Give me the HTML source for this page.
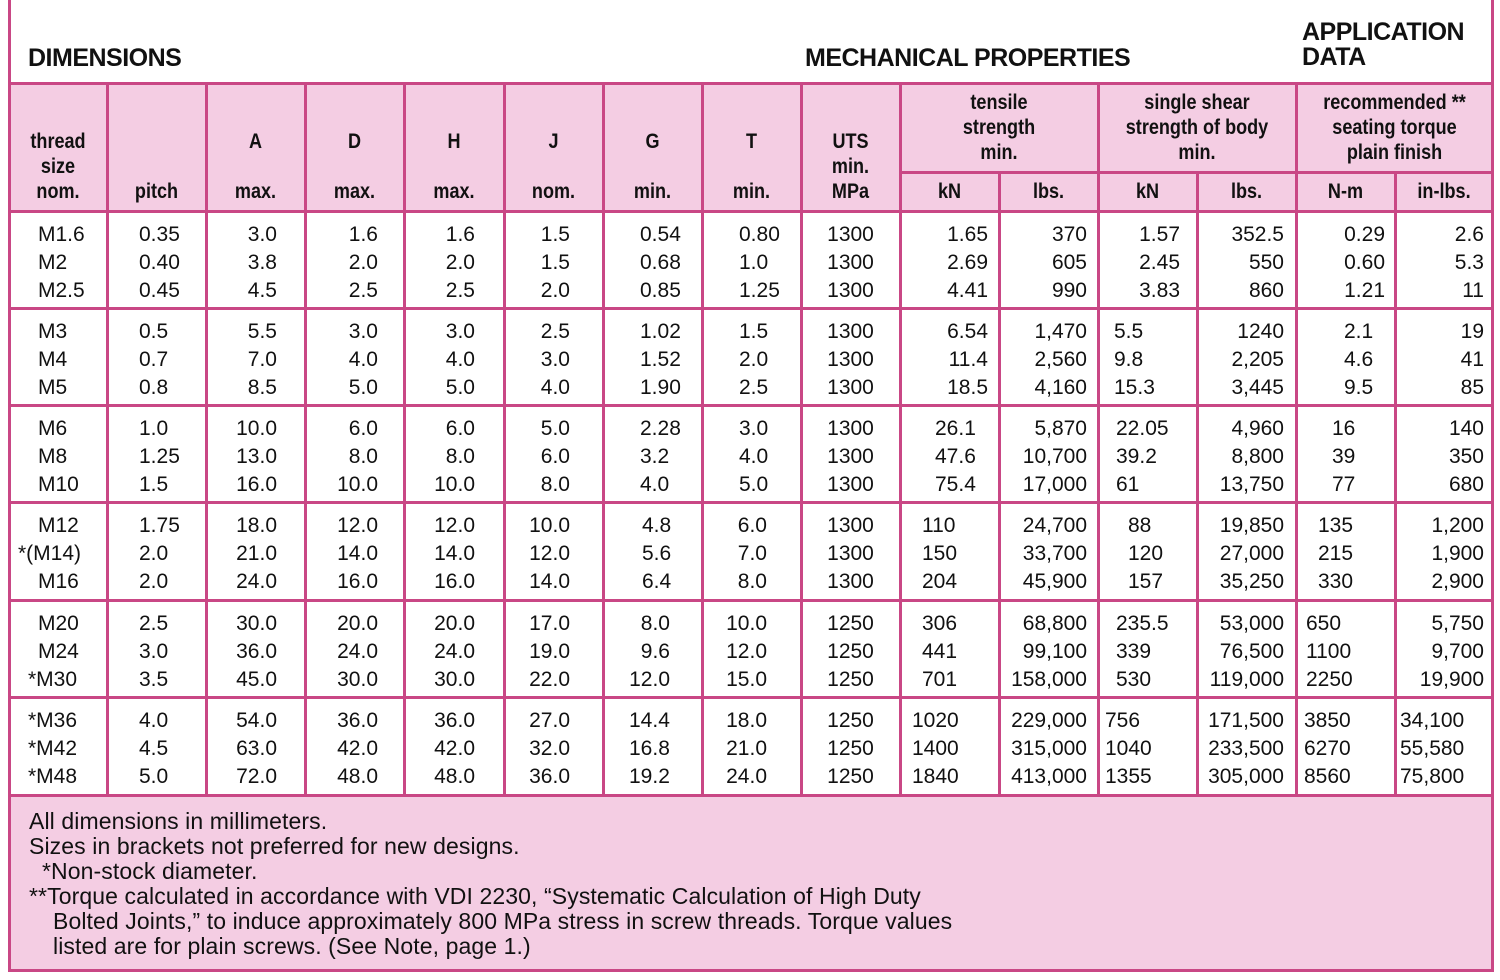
<!DOCTYPE html><html><head><meta charset="utf-8"><style>
body{margin:0;width:1500px;height:980px;background:#fff;position:relative;overflow:hidden;font-family:"Liberation Sans",sans-serif;color:#111}
.a{position:absolute}
.v{position:absolute;width:3px;background:#c94785}
.h{position:absolute;height:3px;background:#c94785}
.t{font-weight:bold;font-size:25px;letter-spacing:-0.5px}
.hd{position:absolute;font-family:"Liberation Sans",sans-serif;font-weight:bold;font-size:21px;line-height:25px;text-align:center;transform:scaleX(0.86);transform-origin:center}
.g{position:absolute;left:9px;display:grid;grid-template-columns:98px 99px 99px 99px 100px 99px 99px 99px 99px 99px 99px 99px 99px 99px 97px;font-size:21px;line-height:28px}
.g div{padding-top:10px;white-space:nowrap}
.c{text-align:center}
.ft{position:absolute;font-size:23px;line-height:25px;white-space:nowrap;letter-spacing:0.1px}
</style></head><body>
<div class="a" style="left:9px;top:83px;width:1484px;height:128px;background:#f4cde3"></div>
<div class="a" style="left:9px;top:795px;width:1484px;height:175px;background:#f4cde3"></div>
<div class="a t" style="left:28px;top:44px">DIMENSIONS</div>
<div class="a t" style="left:805px;top:44px">MECHANICAL PROPERTIES</div>
<div class="a t" style="left:1302px;top:20px;line-height:25px">APPLICATION<br>DATA</div>

<div class="hd" style="left:9px;width:98px;top:129px">thread<br>size<br>nom.</div>
<div class="hd" style="left:107px;width:99px;top:179px">pitch</div>
<div class="hd" style="left:206px;width:99px;top:129px">A<br><br>max.</div>
<div class="hd" style="left:305px;width:99px;top:129px">D<br><br>max.</div>
<div class="hd" style="left:404px;width:100px;top:129px">H<br><br>max.</div>
<div class="hd" style="left:504px;width:99px;top:129px">J<br><br>nom.</div>
<div class="hd" style="left:603px;width:99px;top:129px">G<br><br>min.</div>
<div class="hd" style="left:702px;width:99px;top:129px">T<br><br>min.</div>
<div class="hd" style="left:801px;width:99px;top:129px">UTS<br>min.<br>MPa</div>
<div class="hd" style="left:900px;width:198px;top:90px">tensile<br>strength<br>min.</div>
<div class="hd" style="left:1098px;width:198px;top:90px">single shear<br>strength of body<br>min.</div>
<div class="hd" style="left:1296px;width:197px;top:90px">recommended **<br>seating torque<br>plain finish</div>
<div class="hd" style="left:900px;width:99px;top:179px">kN</div>
<div class="hd" style="left:999px;width:99px;top:179px">lbs.</div>
<div class="hd" style="left:1098px;width:99px;top:179px">kN</div>
<div class="hd" style="left:1197px;width:99px;top:179px">lbs.</div>
<div class="hd" style="left:1296px;width:99px;top:179px">N-m</div>
<div class="hd" style="left:1395px;width:98px;top:179px">in-lbs.</div>

<div class="g" style="top:211px">
<div style="padding-left:29px">M1.6<br>M2<br>M2.5</div>
<div style="padding-left:32px">0.35<br>0.40<br>0.45</div>
<div style="text-align:right;padding-right:28px">3.0<br>3.8<br>4.5</div>
<div style="text-align:right;padding-right:26px">1.6<br>2.0<br>2.5</div>
<div style="text-align:right;padding-right:29px">1.6<br>2.0<br>2.5</div>
<div style="text-align:right;padding-right:33px">1.5<br>1.5<br>2.0</div>
<div style="padding-left:37px">0.54<br>0.68<br>0.85</div>
<div style="padding-left:37px">0.80<br>1.0<br>1.25</div>
<div class="c">1300<br>1300<br>1300</div>
<div style="text-align:right;padding-right:11px">1.65<br>2.69<br>4.41</div>
<div style="text-align:right;padding-right:11px">370<br>605<br>990</div>
<div style="text-align:right;padding-right:17px">1.57<br>2.45<br>3.83</div>
<div style="text-align:right;padding-right:12px">352.5<br>550<br>860</div>
<div style="text-align:right;padding-right:10px">0.29<br>0.60<br>1.21</div>
<div style="text-align:right;padding-right:8px">2.6<br>5.3<br>11</div>
</div>
<div class="g" style="top:308px">
<div style="padding-left:29px">M3<br>M4<br>M5</div>
<div style="padding-left:32px">0.5<br>0.7<br>0.8</div>
<div style="text-align:right;padding-right:28px">5.5<br>7.0<br>8.5</div>
<div style="text-align:right;padding-right:26px">3.0<br>4.0<br>5.0</div>
<div style="text-align:right;padding-right:29px">3.0<br>4.0<br>5.0</div>
<div style="text-align:right;padding-right:33px">2.5<br>3.0<br>4.0</div>
<div style="padding-left:37px">1.02<br>1.52<br>1.90</div>
<div style="padding-left:37px">1.5<br>2.0<br>2.5</div>
<div class="c">1300<br>1300<br>1300</div>
<div style="text-align:right;padding-right:11px">6.54<br>11.4<br>18.5</div>
<div style="text-align:right;padding-right:11px">1,470<br>2,560<br>4,160</div>
<div style="padding-left:16px">5.5<br>9.8<br>15.3</div>
<div style="text-align:right;padding-right:12px">1240<br>2,205<br>3,445</div>
<div style="padding-left:48px">2.1<br>4.6<br>9.5</div>
<div style="text-align:right;padding-right:8px">19<br>41<br>85</div>
</div>
<div class="g" style="top:405px">
<div style="padding-left:29px">M6<br>M8<br>M10</div>
<div style="padding-left:32px">1.0<br>1.25<br>1.5</div>
<div style="text-align:right;padding-right:28px">10.0<br>13.0<br>16.0</div>
<div style="text-align:right;padding-right:26px">6.0<br>8.0<br>10.0</div>
<div style="text-align:right;padding-right:29px">6.0<br>8.0<br>10.0</div>
<div style="text-align:right;padding-right:33px">5.0<br>6.0<br>8.0</div>
<div style="padding-left:37px">2.28<br>3.2<br>4.0</div>
<div style="padding-left:37px">3.0<br>4.0<br>5.0</div>
<div class="c">1300<br>1300<br>1300</div>
<div style="padding-left:35px">26.1<br>47.6<br>75.4</div>
<div style="text-align:right;padding-right:11px">5,870<br>10,700<br>17,000</div>
<div style="padding-left:18px">22.05<br>39.2<br>61</div>
<div style="text-align:right;padding-right:12px">4,960<br>8,800<br>13,750</div>
<div style="padding-left:36px">16<br>39<br>77</div>
<div style="text-align:right;padding-right:8px">140<br>350<br>680</div>
</div>
<div class="g" style="top:502px">
<div style="padding-left:29px">M12<br><span style="margin-left:-20px">*(M14)</span><br>M16</div>
<div style="padding-left:32px">1.75<br>2.0<br>2.0</div>
<div style="text-align:right;padding-right:28px">18.0<br>21.0<br>24.0</div>
<div style="text-align:right;padding-right:26px">12.0<br>14.0<br>16.0</div>
<div style="text-align:right;padding-right:29px">12.0<br>14.0<br>16.0</div>
<div style="text-align:right;padding-right:33px">10.0<br>12.0<br>14.0</div>
<div style="padding-left:39px">4.8<br>5.6<br>6.4</div>
<div style="text-align:right;padding-right:34px">6.0<br>7.0<br>8.0</div>
<div class="c">1300<br>1300<br>1300</div>
<div style="padding-left:22px">110<br>150<br>204</div>
<div style="text-align:right;padding-right:11px">24,700<br>33,700<br>45,900</div>
<div style="padding-left:30px">88<br>120<br>157</div>
<div style="text-align:right;padding-right:12px">19,850<br>27,000<br>35,250</div>
<div style="padding-left:22px">135<br>215<br>330</div>
<div style="text-align:right;padding-right:8px">1,200<br>1,900<br>2,900</div>
</div>
<div class="g" style="top:600px">
<div style="padding-left:29px">M20<br>M24<br><span style="margin-left:-10px">*M30</span></div>
<div style="padding-left:32px">2.5<br>3.0<br>3.5</div>
<div style="text-align:right;padding-right:28px">30.0<br>36.0<br>45.0</div>
<div style="text-align:right;padding-right:26px">20.0<br>24.0<br>30.0</div>
<div style="text-align:right;padding-right:29px">20.0<br>24.0<br>30.0</div>
<div style="text-align:right;padding-right:33px">17.0<br>19.0<br>22.0</div>
<div style="text-align:right;padding-right:32px">8.0<br>9.6<br>12.0</div>
<div style="text-align:right;padding-right:34px">10.0<br>12.0<br>15.0</div>
<div class="c">1250<br>1250<br>1250</div>
<div style="padding-left:22px">306<br>441<br>701</div>
<div style="text-align:right;padding-right:11px">68,800<br>99,100<br>158,000</div>
<div style="padding-left:18px">235.5<br>339<br>530</div>
<div style="text-align:right;padding-right:12px">53,000<br>76,500<br>119,000</div>
<div style="padding-left:10px">650<br>1100<br>2250</div>
<div style="text-align:right;padding-right:8px">5,750<br>9,700<br>19,900</div>
</div>
<div class="g" style="top:697px">
<div style="padding-left:19px">*M36<br>*M42<br>*M48</div>
<div style="padding-left:32px">4.0<br>4.5<br>5.0</div>
<div style="text-align:right;padding-right:28px">54.0<br>63.0<br>72.0</div>
<div style="text-align:right;padding-right:26px">36.0<br>42.0<br>48.0</div>
<div style="text-align:right;padding-right:29px">36.0<br>42.0<br>48.0</div>
<div style="text-align:right;padding-right:33px">27.0<br>32.0<br>36.0</div>
<div style="padding-left:26px">14.4<br>16.8<br>19.2</div>
<div style="text-align:right;padding-right:34px">18.0<br>21.0<br>24.0</div>
<div class="c">1250<br>1250<br>1250</div>
<div style="padding-left:12px">1020<br>1400<br>1840</div>
<div style="text-align:right;padding-right:11px">229,000<br>315,000<br>413,000</div>
<div style="padding-left:7px">756<br>1040<br>1355</div>
<div style="text-align:right;padding-right:12px">171,500<br>233,500<br>305,000</div>
<div style="padding-left:8px">3850<br>6270<br>8560</div>
<div style="padding-left:5px">34,100<br>55,580<br>75,800</div>
</div>

<div class="ft" style="left:29px;top:809px">All dimensions in millimeters.</div>
<div class="ft" style="left:29px;top:834px">Sizes in brackets not preferred for new designs.</div>
<div class="ft" style="left:42px;top:859px">*Non-stock diameter.</div>
<div class="ft" style="left:29px;top:884px">**Torque calculated in accordance with VDI 2230, “Systematic Calculation of High Duty</div>
<div class="ft" style="left:53px;top:909px">Bolted Joints,” to induce approximately 800 MPa stress in screw threads. Torque values</div>
<div class="ft" style="left:53px;top:934px">listed are for plain screws. (See Note, page 1.)</div>

<div class="v" style="left:8px;top:0;height:972px"></div>
<div class="v" style="left:1491px;top:0;height:972px"></div>
<div class="h" style="left:8px;top:82px;width:1486px"></div>
<div class="h" style="left:8px;top:210px;width:1486px"></div>
<div class="h" style="left:8px;top:307px;width:1486px"></div>
<div class="h" style="left:8px;top:404px;width:1486px"></div>
<div class="h" style="left:8px;top:501px;width:1486px"></div>
<div class="h" style="left:8px;top:599px;width:1486px"></div>
<div class="h" style="left:8px;top:696px;width:1486px"></div>
<div class="h" style="left:8px;top:794px;width:1486px"></div>
<div class="h" style="left:8px;top:969px;width:1486px"></div>
<div class="h" style="left:900px;top:171px;width:593px"></div>
<div class="v" style="left:106px;top:83px;height:712px"></div>
<div class="v" style="left:205px;top:83px;height:712px"></div>
<div class="v" style="left:304px;top:83px;height:712px"></div>
<div class="v" style="left:403px;top:83px;height:712px"></div>
<div class="v" style="left:503px;top:83px;height:712px"></div>
<div class="v" style="left:602px;top:83px;height:712px"></div>
<div class="v" style="left:701px;top:83px;height:712px"></div>
<div class="v" style="left:800px;top:83px;height:712px"></div>
<div class="v" style="left:899px;top:83px;height:712px"></div>
<div class="v" style="left:998px;top:172px;height:623px"></div>
<div class="v" style="left:1097px;top:83px;height:712px"></div>
<div class="v" style="left:1196px;top:172px;height:623px"></div>
<div class="v" style="left:1295px;top:83px;height:712px"></div>
<div class="v" style="left:1394px;top:172px;height:623px"></div>
</body></html>
